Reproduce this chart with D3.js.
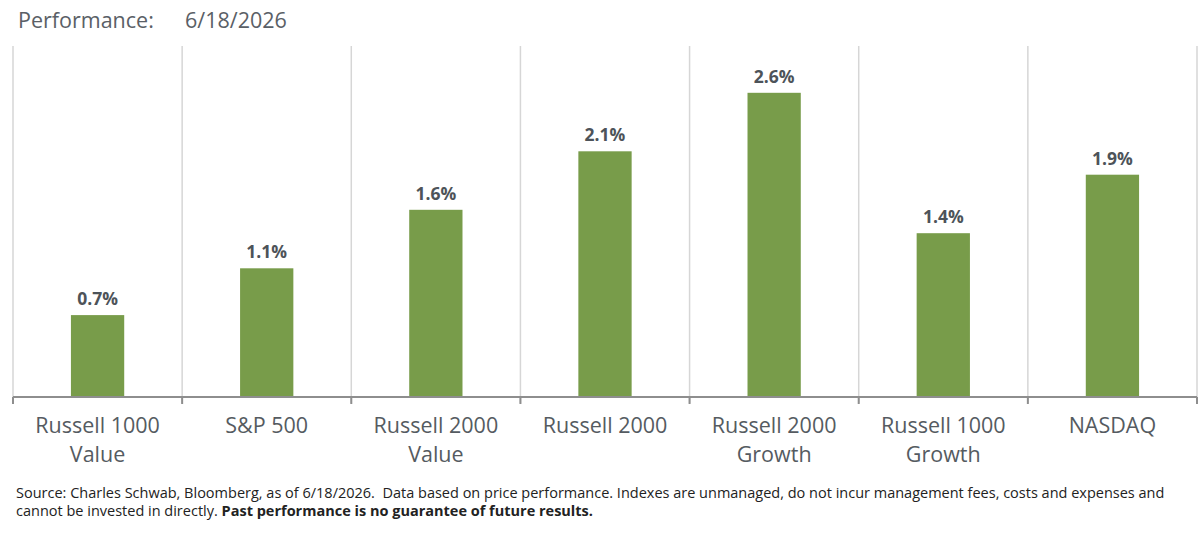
<!DOCTYPE html>
<html>
<head>
<meta charset="utf-8">
<script src="https://cdn.jsdelivr.net/npm/d3@7"></script>
<style>
  body { margin: 0; background: #fff; }
  svg { font-family: "Open Sans", "Noto Sans", sans-serif; }
</style>
</head>
<body>
<div id="chart"></div>
<script>
// data
const categories = ["Russell 1000 Value", "S&P 500", "Russell 2000 Value", "Russell 2000", "Russell 2000 Growth", "Russell 1000 Growth", "NASDAQ"];
const labelLines = [["Russell 1000", "Value"], ["S&P 500"], ["Russell 2000", "Value"], ["Russell 2000"], ["Russell 2000", "Growth"], ["Russell 1000", "Growth"], ["NASDAQ"]];
const values = [0.7, 1.1, 1.6, 2.1, 2.6, 1.4, 1.9];
const titleText = "Performance:";
const dateText = "6/18/2026";

const W = 1200, H = 537;
const margin = { top: 46, right: 3, bottom: 140, left: 13 };
const width = W - margin.left - margin.right,
  height = H - margin.top - margin.bottom;

const svg = d3.select("#chart").append("svg")
  .attr("width", W).attr("height", H);

// title
svg.append("text").attr("x", 18).attr("y", 28)
  .attr("font-size", 21.5).attr("fill", "#5a6066").text(titleText);
svg.append("text").attr("x", 185).attr("y", 28)
  .attr("font-size", 21.5).attr("fill", "#5a6066").text(dateText);

const g = svg.append("g").attr("transform", `translate(${margin.left},${margin.top})`);

const x = d3.scaleBand().domain(categories).range([0, width]).paddingInner(0.685).paddingOuter(0.3425);
const band = d3.scaleBand().domain(categories).range([0, width]);
const y = d3.scaleLinear().domain([0, 3]).range([height, 0]);

// vertical separators
g.selectAll(".sep")
  .data(d3.range(categories.length + 1))
  .join("line")
  .attr("x1", i => i * band.step()).attr("x2", i => i * band.step())
  .attr("y1", 0).attr("y2", height + 6)
  .attr("stroke", "#d6d6d6").attr("stroke-width", 1.5);

// bars
g.selectAll(".bar").data(values).join("rect")
  .attr("x", (d, i) => x(categories[i]))
  .attr("width", x.bandwidth())
  .attr("y", d => y(d))
  .attr("height", d => height - y(d))
  .attr("fill", "#789c4a");

// value labels
g.selectAll(".val").data(values).join("text")
  .attr("x", (d, i) => x(categories[i]) + x.bandwidth() / 2)
  .attr("y", d => y(d) - 10)
  .attr("text-anchor", "middle")
  .attr("font-size", 17.5).attr("font-weight", "bold").attr("fill", "#4d5359")
  .text(d => d.toFixed(1) + "%");

// axis line + ticks
g.append("line").attr("x1", 0).attr("x2", width)
  .attr("y1", height).attr("y2", height)
  .attr("stroke", "#8e8e8e").attr("stroke-width", 2);
g.selectAll(".tick").data(d3.range(categories.length + 1)).join("line")
  .attr("x1", i => i * band.step()).attr("x2", i => i * band.step())
  .attr("y1", height).attr("y2", height + 7)
  .attr("stroke", "#8e8e8e").attr("stroke-width", 2);

// category labels
const cat = g.selectAll(".cat").data(labelLines).join("text")
  .attr("text-anchor", "middle")
  .attr("font-size", 21.5).attr("fill", "#555b61")
  .attr("transform", (d, i) => `translate(${band(categories[i]) + band.bandwidth() / 2},${height + 36})`);
cat.selectAll("tspan").data(d => d).join("tspan")
  .attr("x", 0).attr("dy", (d, j) => j === 0 ? 0 : 29)
  .text(d => d);

// footer
const foot = svg.append("g").attr("font-size", 14.5).attr("fill", "#222");
foot.append("text").attr("x", 16).attr("y", 498)
  .text("Source: Charles Schwab, Bloomberg, as of 6/18/2026.\u00a0 Data based on price performance. Indexes are unmanaged, do not incur management fees, costs and expenses and");
const f2 = foot.append("text").attr("x", 16).attr("y", 516);
f2.append("tspan").text("cannot be invested in directly.\u00a0");
f2.append("tspan").attr("font-weight", "bold").text("Past performance is no guarantee of future results.");
</script>
</body>
</html>
